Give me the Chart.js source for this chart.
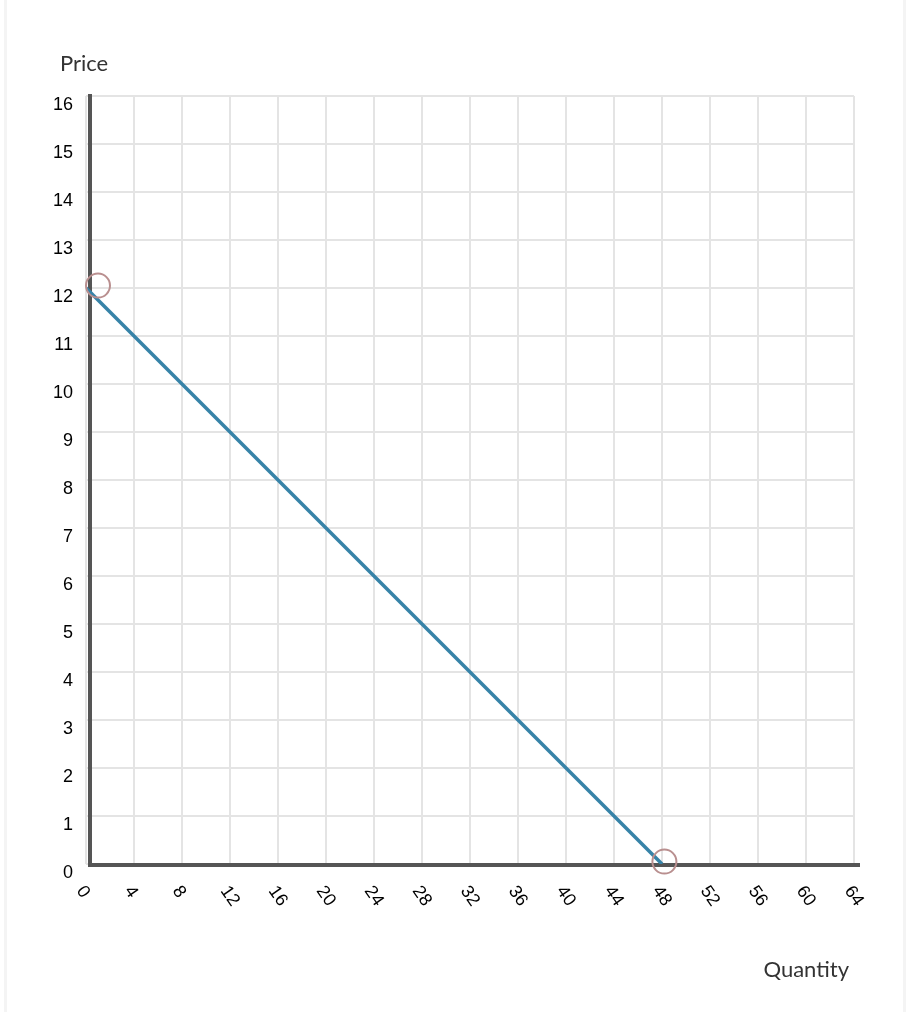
<!DOCTYPE html>
<html>
<head>
<meta charset="utf-8">
<script src="https://cdn.jsdelivr.net/npm/chart.js@4/dist/chart.umd.min.js"></script>
<style>
  html, body { margin: 0; padding: 0; background: #fff; }
  #frame { position: absolute; left: 4px; top: 0; width: 896px; height: 1012px;
           border-left: 3px solid #f4f4f4; border-right: 3px solid #f4f4f4; }
  #wrap { position: absolute; left: 0; top: 0; width: 912px; height: 1012px; }
</style>
</head>
<body>
<div id="frame"></div>
<div id="wrap"><canvas id="chart"></canvas></div>
<script>
// Demand curve: price vs quantity
const xTicks = [0, 4, 8, 12, 16, 20, 24, 28, 32, 36, 40, 44, 48, 52, 56, 60, 64];
const yTicks = [0, 1, 2, 3, 4, 5, 6, 7, 8, 9, 10, 11, 12, 13, 14, 15, 16];
const demandQty = [0, 48];
const demandPrice = [12, 0];
const handleQty = [1, 48.2];
const handlePrice = [12.05, 0.05];
const xTitle = 'Quantity';
const yTitle = 'Price';

const TICK_FONT = '18px "Liberation Sans", Arial, sans-serif';
const TITLE_FONT = '22px Lato, sans-serif';

// axes lines, rotated x labels and titles
const decor = {
  id: 'decor',
  beforeDatasetsDraw(chart) {
    const { ctx, scales: { x, y } } = chart;
    ctx.save();
    ctx.strokeStyle = '#555';
    ctx.lineWidth = 4;
    ctx.beginPath();
    ctx.moveTo(x.getPixelForValue(0) + 4, y.getPixelForValue(16) - 2);
    ctx.lineTo(x.getPixelForValue(0) + 4, y.getPixelForValue(0) + 1);
    ctx.moveTo(x.getPixelForValue(0) + 2, y.getPixelForValue(0) + 1);
    ctx.lineTo(x.getPixelForValue(64) + 6, y.getPixelForValue(0) + 1);
    ctx.stroke();
    ctx.restore();
  },
  afterDraw(chart) {
    const { ctx, scales: { x, y } } = chart;
    ctx.save();
    ctx.font = TICK_FONT;
    ctx.fillStyle = '#000';
    ctx.textAlign = 'left';
    ctx.textBaseline = 'middle';
    xTicks.forEach(v => {
      ctx.save();
      ctx.translate(x.getPixelForValue(v) - 6, y.getPixelForValue(0) + 24);
      ctx.rotate(55 * Math.PI / 180);
      ctx.fillText(String(v), 0, 0);
      ctx.restore();
    });
    ctx.font = TITLE_FONT;
    ctx.fillStyle = '#333';
    ctx.textBaseline = 'alphabetic';
    ctx.textAlign = 'left';
    ctx.fillText(yTitle, 60, 71);
    ctx.textAlign = 'right';
    ctx.fillText(xTitle, 849, 977);
    ctx.restore();
  }
};

new Chart(document.getElementById('chart'), {
  type: 'scatter',
  data: {
    datasets: [
      {
        type: 'line',
        data: demandQty.map((q, i) => ({ x: q, y: demandPrice[i] })),
        borderColor: '#3783a8',
        borderWidth: 3.5,
        pointRadius: 0,
        fill: false,
        order: 2
      },
      {
        data: handleQty.map((q, i) => ({ x: q, y: handlePrice[i] })),
        pointRadius: 12,
        borderColor: '#b98f8f',
        borderWidth: 2,
        backgroundColor: 'rgba(0,0,0,0)',
        clip: false,
        order: 1
      }
    ]
  },
  options: {
    responsive: true,
    maintainAspectRatio: false,
    animation: false,
    events: [],
    layout: { padding: { top: 96, right: 58, left: 0, bottom: 0 } },
    plugins: { legend: { display: false }, tooltip: { enabled: false } },
    scales: {
      x: {
        type: 'linear',
        min: 0,
        max: 64,
        afterBuildTicks: s => { s.ticks = xTicks.map(v => ({ value: v })); },
        afterFit: s => { s.height = 148; },
        ticks: { display: false },
        grid: { color: '#e4e4e4', lineWidth: 2, drawTicks: false },
        border: { display: false }
      },
      y: {
        type: 'linear',
        min: 0,
        max: 16,
        afterBuildTicks: s => { s.ticks = yTicks.map(v => ({ value: v })); },
        afterFit: s => { s.width = 86; },
        ticks: {
          color: '#000',
          font: { family: '"Liberation Sans", Arial, sans-serif', size: 18 },
          padding: 13,
          labelOffset: 9
        },
        grid: { color: '#e4e4e4', lineWidth: 2, drawTicks: false },
        border: { display: false }
      }
    }
  },
  plugins: [decor]
});
</script>
</body>
</html>
